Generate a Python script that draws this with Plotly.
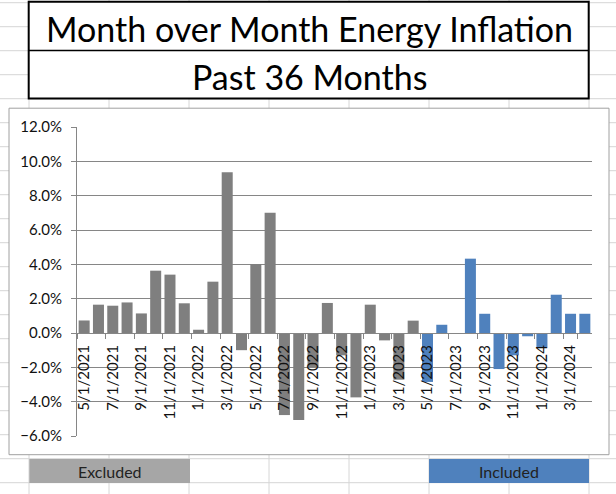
import plotly.graph_objects as go

# ---------------- data ----------------
months = [
    "5/1/2021", "6/1/2021", "7/1/2021", "8/1/2021", "9/1/2021", "10/1/2021",
    "11/1/2021", "12/1/2021", "1/1/2022", "2/1/2022", "3/1/2022", "4/1/2022",
    "5/1/2022", "6/1/2022", "7/1/2022", "8/1/2022", "9/1/2022", "10/1/2022",
    "11/1/2022", "12/1/2022", "1/1/2023", "2/1/2023", "3/1/2023", "4/1/2023",
    "5/1/2023", "6/1/2023", "7/1/2023", "8/1/2023", "9/1/2023", "10/1/2023",
    "11/1/2023", "12/1/2023", "1/1/2024", "2/1/2024", "3/1/2024", "4/1/2024",
]
mom_pct = [
    0.73, 1.65, 1.59, 1.78, 1.14, 3.63,
    3.40, 1.73, 0.19, 2.99, 9.36, -1.00,
    4.02, 7.01, -4.78, -5.07, -2.00, 1.75,
    -1.30, -3.75, 1.65, -0.43, -2.72, 0.72,
    -2.85, 0.48, 0.00, 4.33, 1.12, -2.10,
    -1.30, -0.19, -0.85, 2.23, 1.12, 1.12,
]
group = ["Excluded"] * 24 + ["Included"] * 12
tick_labels = months[::2]
y_ticks = [-0.06, -0.04, -0.02, 0.0, 0.02, 0.04, 0.06, 0.08, 0.10, 0.12]

title_1 = "Month over Month Energy Inflation"
title_2 = "Past 36 Months"

GRAY = "#7f7f7f"
BLUE = "#4f81bd"
colors = [GRAY if g == "Excluded" else BLUE for g in group]

W, H = 616, 494
L, R, T, B = 77, 592, 127.3, 436.3
FONT = "Lato"


def px(x):
    return (x - L) / (R - L)


def py(y):
    return (B - y) / (B - T)


fig = go.Figure()
fig.add_trace(go.Bar(
    x=months,
    y=[v / 100 for v in mom_pct],
    marker=dict(color=colors, line=dict(width=0)),
    showlegend=False,
))

shapes = []
SHEET = "#d6d6d6"
# spreadsheet gridlines
for gx in [29, 109, 189, 269, 349, 429, 509, 589]:
    shapes.append(dict(type="line", xref="paper", yref="paper", layer="below",
                       x0=px(gx), x1=px(gx), y0=py(-5), y1=py(H + 5),
                       line=dict(color=SHEET, width=1)))
for k in range(22):
    gy = 3 + 24 * k
    shapes.append(dict(type="line", xref="paper", yref="paper", layer="below",
                       x0=px(-5), x1=px(W + 5), y0=py(gy), y1=py(gy),
                       line=dict(color=SHEET, width=1)))
# title cells
shapes.append(dict(type="rect", xref="paper", yref="paper", layer="below",
                   x0=px(28.7), x1=px(588.7), y0=py(2), y1=py(98.7),
                   fillcolor="white", line=dict(color="black", width=2)))
shapes.append(dict(type="line", xref="paper", yref="paper", layer="below",
                   x0=px(28.7), x1=px(588.7), y0=py(50.7), y1=py(50.7),
                   line=dict(color="black", width=1.5)))
# chart area
shapes.append(dict(type="rect", xref="paper", yref="paper", layer="below",
                   x0=px(9), x1=px(609), y0=py(108.5), y1=py(455),
                   fillcolor="white", line=dict(color="#a0a0a0", width=1)))
# bottom cells
shapes.append(dict(type="rect", xref="paper", yref="paper", layer="below",
                   x0=px(29.3), x1=px(190), y0=py(459.3), y1=py(483.3),
                   fillcolor="#a6a6a6", line=dict(width=0)))
shapes.append(dict(type="rect", xref="paper", yref="paper", layer="below",
                   x0=px(429), x1=px(589), y0=py(459.3), y1=py(483.3),
                   fillcolor=BLUE, line=dict(width=0)))

annotations = [
    dict(text=title_1, xref="paper", yref="paper", x=px(309.7), y=py(29),
         xanchor="center", yanchor="middle", showarrow=False,
         font=dict(family=FONT, size=34, color="black")),
    dict(text=title_2, xref="paper", yref="paper", x=px(309.7), y=py(77),
         xanchor="center", yanchor="middle", showarrow=False,
         font=dict(family=FONT, size=34, color="black")),
    dict(text="Excluded", xref="paper", yref="paper", x=px(109.5), y=py(471.5),
         xanchor="center", yanchor="middle", showarrow=False,
         font=dict(family=FONT, size=16, color="#222222")),
    dict(text="Included", xref="paper", yref="paper", x=px(509), y=py(471.5),
         xanchor="center", yanchor="middle", showarrow=False,
         font=dict(family=FONT, size=16, color="#222222")),
]

fig.update_layout(
    width=W, height=H,
    margin=dict(l=L, r=W - R, t=T, b=H - B, pad=0),
    paper_bgcolor="white",
    plot_bgcolor="rgba(0,0,0,0)",
    bargap=0.23,
    shapes=shapes,
    annotations=annotations,
    font=dict(family=FONT, color="#111111"),
    xaxis=dict(
        type="category",
        anchor="free", position=6 / 18,
        tickmode="array", tickvals=tick_labels, ticktext=tick_labels,
        tickangle=-90,
        tickfont=dict(family=FONT, size=15, color="#111111"),
        showline=True, linecolor="#868686", linewidth=1,
        ticks="outside", ticklen=5, tickcolor="#868686", tickson="boundaries",
        ticklabelstandoff=5,
        showgrid=False, zeroline=False,
        range=[-0.5, 35.5],
    ),
    yaxis=dict(
        range=[-0.06, 0.12],
        tickmode="array", tickvals=y_ticks,
        tickformat=".1%",
        tickfont=dict(family=FONT, size=15, color="#111111"),
        showgrid=True, gridcolor="#868686", gridwidth=1,
        showline=True, linecolor="#868686", linewidth=1,
        ticks="outside", ticklen=5, tickcolor="#868686",
        ticklabelstandoff=6,
        zeroline=False,
    ),
)

fig.write_html("out.html")
